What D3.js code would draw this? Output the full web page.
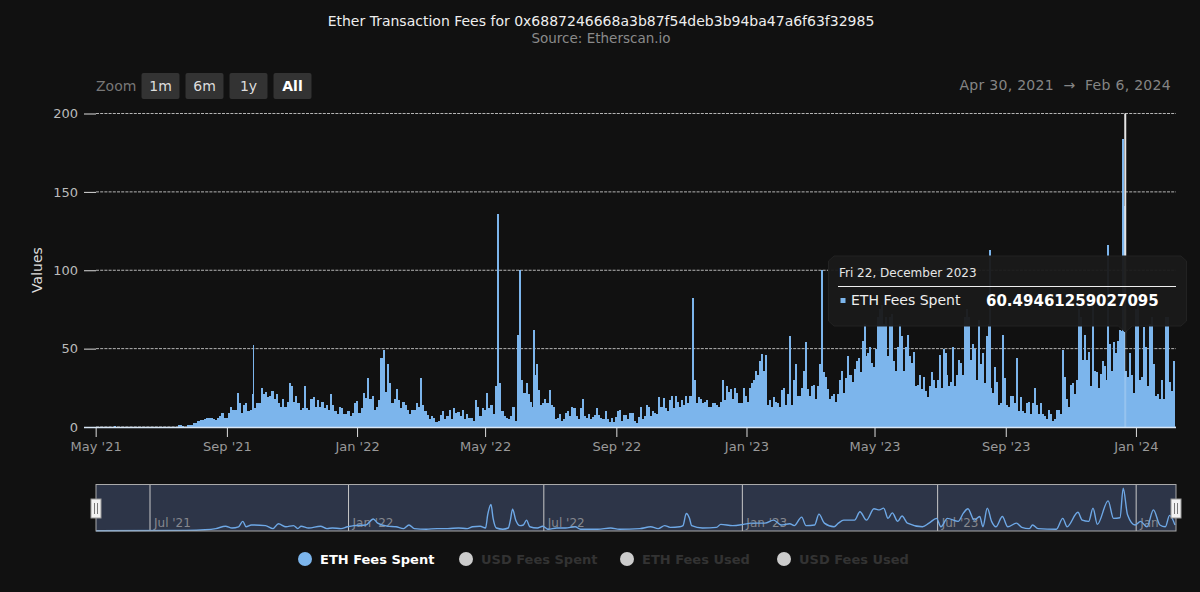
<!DOCTYPE html>
<html>
<head>
<meta charset="utf-8">
<script src="https://cdn.jsdelivr.net/npm/d3@7"></script>
<style>
body { margin: 0; background: #111; overflow: hidden; }
text { font-family: "DejaVu Sans", sans-serif; }
</style>
</head>
<body>
<script>
// fee readings, one list per stretch of the timeline (ETH per day)
var segmentStarts = ["2021-04-30", "2021-07-11", "2021-12-25", "2022-06-12", "2022-11-28", "2023-04-17", "2023-09-14", "2024-02-07"];

var fees2021a = [0,0,0,0,0,0,0,0,0,0.8,0,0,0,0,0,0,0,0,0,0,0,0,0,0,0,0,0,0,0,0,0,0,0,0,0,0];
var fees2021b = [0.2,0.2,0.2,1,1,0.8,0.3,1,1,1.5,2.5,2.5,4,4.5,4.5,5,5.5,5.5,5.5,5,4.5,5.5,7,9,6,6,9,13,11,11,21.5,15,9,14,15,10,11,21,12,15,15,25,21,22.5,19,20,23,18,21,15,13,18,13,16,28,26,16,20,15,11,12,26,12,11,18,19,13,17,13,16,12,14,11,21,14,10,8,13,12,8,8,10];
var fees2022a = [7,8.7,15.5,16.8,9,12,22,18.3,31,18,20,11,13,17,44,49,22.5,40,28,15,18,24,17,12,16,14,11,8,11,11,15,12.5,31,14,10,7.7,5,7,6,3.5,4,7.7,10,5,7,11,5,12,9,9.6,7,11,5,8.3,6,6,4,17,12.5,7,12,11,22,12,14,8,26,62,28,10,7,6,5,7,13,4,59,56,30,22,28,21];
var fees2022b = [16,13,33,40,23.5,14,15,18,15,23.5,14,12.5,5,6,8,4,5,9,10,7,13,12,7,5,12,18,7,5.5,8.3,5,6.5,7.7,12,7.7,6,5,10,5,3,5.5,3.5,6.5,10,11,4,7.7,7.7,5,9,9,4,2.5,6.2,13,5,7,14,12.5,7,10,9,8.3,19,13,18.5,12,10,17,20,12,20,16,13,17,14,20,15,20,82,30,15,19,18,15,16,17,13];
var fees2023a = [13,15,15,14,13,16,30,17,26,22.5,24,18,25,22,15,15,25,20,16,25,28,30,36,33,42,46.6,36,46,14,17,13,19,16,15,13,23.6,25,14,21,26,14,30,40,20,20,25,36,54,24,20,26,27,18,26,40,32,35,32,24,18,20,21,16,21,30,36,22,31,45,33,29,37,42,44];
var fees2023b = [35,55,66,45,47,51,41,38,50,70,75,78,66,70,45,70,72,42,36,51,66,58,36,51,59,45,41,48,26,27,33,24,32,23,19,26,35,30,25,30,46,25,50,47,33,26,29,51,26,33,43,41,33,70,75,70,43,53,50,30,68,40,47,28,58,66,25,22,38,29,14,15,59,31,14,13,20,20,15,44,10];
var fees2024a = [19,10,9,15,16,8,15,25,14,8,15,8,7,5,11,8,4,5,11,11,8,49,32,18,13,27,28,21,30,75,70,43,59,43,48,26,85,36,35,25,34,42,39,30,70,53,36,54,47,55,62,61,60.5,36,32,47,33,22,75,80,30,32,64,51,26,66,70,40,20,21,18,30,18,70,70,29,23,42];

// single days that stick out above their neighbours
var spikeDates = ["2021-09-25", "2022-05-12", "2022-06-02", "2022-06-15", "2023-02-10", "2023-03-12", "2023-08-16", "2023-12-05", "2023-12-19", "2023-12-20"];
var spikeValues = [52, 136, 100, 62, 58, 100, 113, 116, 184, 141];

// navigator overview line: days since 1 May 2021 and grouped fee
var navDays = [11,95,112,122,131,137,143,147,150,155,168,175,180,187,194,198,201,208,219,225,230,238,244,250,261,268,272,281,289,296,301,306,317,327,337,347,355,360,367,372,374,377,379,382,388,393,395,397,400,404,407,410,413,420,425,430,438,446,455,460,476,488,496,515,525,532,538,543,552,555,558,561,563,573,586,590,601,611,618,631,639,646,654,658,665,669,677,681,686,695,699,704,714,719,725,732,737,741,745,749,754,758,763,777,783,790,794,800,810,815,819,825,830,833,837,841,845,851,856,864,869,876,879,884,901,907,911,921,925,931,935,939,949,954,960,963,967,974,979,985,991,997,1002,1006,1011];
var navValues = [0.5,1,2,4,8,5,7,16,7,10,9,4,12,7,9,4,8,5,8,4,5,4,7,9,10,20,13,8,7,4,10,4,3,4,4,5,4,7,8,5,27,44,21,5,3,5,18,36,18,9,10,18,7,5,8,3,5,5,7,3,3,5,3,4,7,4,9,6,7,9,29,21,9,5,6,11,9,11,13,13,18,10,12,9,23,9,10,28,13,7,13,18,18,32,18,37,35,38,21,30,16,25,13,7,13,21,7,21,16,30,37,18,24,7,38,16,7,24,7,13,6,4,10,4,3,21,7,31,18,16,38,11,50,21,22,71,27,10,16,7,35,10,7,26,10];

var yTicks = [0, 50, 100, 150, 200];
var xTicks = ["2021-05-01", "2021-09-01", "2022-01-01", "2022-05-01", "2022-09-01", "2023-01-01", "2023-05-01", "2023-09-01", "2024-01-01"];
var navTicks = ["2021-07-01", "2022-01-01", "2022-07-01", "2023-01-01", "2023-07-01", "2024-01-01"];
var navLabels = ["Jul '21", "Jan '22", "Jul '22", "Jan '23", "Jul '23", "Jan"];
var zoomButtons = ["1m", "6m", "1y", "All"];
var legendNames = ["ETH Fees Spent", "USD Fees Spent", "ETH Fees Used", "USD Fees Used"];

var width = 1200, height = 592;
var parseDay = d3.utcParse("%Y-%m-%d");
var dayMs = 86400000;

var svg = d3.select("body").append("svg")
	.attr("width", width)
	.attr("height", height)
	.style("display", "block");

var x = d3.scaleUtc().domain([parseDay("2021-04-30"), parseDay("2024-02-07")]).range([94.6, 1175.4]);
var y = d3.scaleLinear().domain([0, 200]).range([427, 113.5]);

// spread each list evenly over its stretch of time
var segments = [fees2021a, fees2021b, fees2022a, fees2022b, fees2023a, fees2023b, fees2024a];
var rows = [];
segments.forEach(function(list, s) {
	var t0 = +parseDay(segmentStarts[s]), t1 = +parseDay(segmentStarts[s + 1]);
	var step = (t1 - t0) / list.length;
	list.forEach(function(v, i) {
		rows.push({ from: new Date(t0 + i * step), to: new Date(t0 + (i + 1) * step), value: v });
	});
});
var spikes = spikeDates.map(function(d, i) {
	var t = parseDay(d);
	return { from: t, to: new Date(+t + 1.7 * dayMs), value: spikeValues[i] };
});

// header
svg.append("text").attr("x", 601).attr("y", 26).attr("text-anchor", "middle")
	.style("font-size", "14px").style("fill", "#eee")
	.text("Ether Transaction Fees for 0x6887246668a3b87f54deb3b94ba47a6f63f32985");
svg.append("text").attr("x", 601).attr("y", 43).attr("text-anchor", "middle")
	.style("font-size", "13.5px").style("fill", "#8a8a8a")
	.text("Source: Etherscan.io");

// zoom buttons
svg.append("text").attr("x", 96).attr("y", 91).style("font-size", "14px").style("fill", "#777").text("Zoom");
var buttonX = d3.scalePoint().domain(zoomButtons).range([141.5, 273.5]);
var btn = svg.selectAll("g.btn").data(zoomButtons).enter().append("g").attr("class", "btn");
btn.append("rect")
	.attr("x", function(d){ return buttonX(d); })
	.attr("y", 73)
	.attr("width", 38)
	.attr("height", 26)
	.attr("rx", 2)
	.attr("fill", "#333");
btn.append("text")
	.attr("x", function(d){ return buttonX(d) + 19; })
	.attr("y", 91)
	.attr("text-anchor", "middle")
	.style("font-size", "14px")
	.style("font-weight", function(d){ return d == "All" ? "bold" : "normal"; })
	.style("fill", function(d){ return d == "All" ? "#fff" : "#ddd"; })
	.text(function(d){ return d; });

svg.append("text").attr("x", 1171).attr("y", 90).attr("text-anchor", "end")
	.style("font-size", "14px").style("fill", "#858585").style("letter-spacing", "0.3px")
	.text("Apr 30, 2021\u00a0\u00a0\u2192\u00a0\u00a0Feb 6, 2024");

// gridlines
svg.selectAll("line.grid").data(yTicks).enter().append("line")
	.attr("class", "grid")
	.attr("x1", 96).attr("x2", 1176)
	.attr("y1", function(d){ return y(d); })
	.attr("y2", function(d){ return y(d); })
	.attr("stroke", "#b5b5b5")
	.attr("stroke-dasharray", "3,1.2");

// bars
svg.append("g").selectAll("rect").data(rows.concat(spikes)).enter().append("rect")
	.attr("x", function(d){ return x(d.from); })
	.attr("y", function(d){ return y(d.value); })
	.attr("width", function(d){ return x(d.to) - x(d.from); })
	.attr("height", function(d){ return y(0) - y(d.value); })
	.attr("fill", "#7cb5ec")
	.attr("shape-rendering", "crispEdges");

// crosshair: solid above the hovered bar, just a faint band over it
var hoverX = x(parseDay("2023-12-22")), hoverValue = 60.49461259027095;
svg.append("line")
	.attr("x1", hoverX).attr("x2", hoverX)
	.attr("y1", y(200)).attr("y2", y(hoverValue))
	.attr("stroke", "#e4e4e4").attr("stroke-width", 2);
svg.append("line")
	.attr("x1", hoverX).attr("x2", hoverX)
	.attr("y1", y(hoverValue)).attr("y2", y(0))
	.attr("stroke", "#fff").attr("stroke-opacity", 0.2).attr("stroke-width", 2);

// axes
var yAxis = svg.append("g").attr("transform", "translate(96,0)")
	.call(d3.axisLeft(y).tickValues(yTicks).tickSize(12).tickPadding(6));
yAxis.select(".domain").remove();
yAxis.selectAll("line").attr("stroke", "#ddd");
yAxis.selectAll("text").style("font-size", "13px").style("fill", "#bbb").style("font-family", "'DejaVu Sans'");

var xAxis = svg.append("g").attr("transform", "translate(0,427)")
	.call(d3.axisBottom(x).tickValues(xTicks.map(parseDay)).tickFormat(d3.utcFormat("%b '%y")).tickSize(10).tickPadding(5));
xAxis.select(".domain").remove();
xAxis.selectAll("line").attr("stroke", "#ddd");
xAxis.selectAll("text").style("font-size", "13px").style("fill", "#999").style("font-family", "'DejaVu Sans'");
svg.append("line").attr("x1", 84).attr("x2", 1176).attr("y1", 427.5).attr("y2", 427.5)
	.attr("stroke", "#d8e6f5").attr("stroke-width", 1.5);

svg.append("text").attr("transform", "translate(42,270) rotate(-90)").attr("text-anchor", "middle")
	.style("font-size", "14px").style("fill", "#ddd").text("Values");

// tooltip
var tip = svg.append("g");
var tipY = y(hoverValue);
tip.append("path")
	.attr("d", d3.line()([[834, 256], [1181, 256], [1186.5, 261], [1186.5, 321], [1181, 326], [hoverX + 7, 326], [hoverX, tipY], [hoverX - 7, 326], [834, 326], [828.5, 321], [828.5, 261]]) + "Z")
	.attr("fill", "#1a1a1a").attr("fill-opacity", 0.96).attr("stroke", "#222");
tip.append("text").attr("x", 839).attr("y", 277).style("font-size", "12px").style("fill", "#e6e6e6").text("Fri 22, December 2023");
tip.append("line").attr("x1", 838).attr("x2", 1176).attr("y1", 286.5).attr("y2", 286.5).attr("stroke", "#eee");
tip.append("rect").attr("x", 840.5).attr("y", 298).attr("width", 5).attr("height", 5).attr("fill", "#7cb5ec");
tip.append("text").attr("x", 851).attr("y", 305).style("font-size", "14px").style("fill", "#eee").text("ETH Fees Spent");
tip.append("text").attr("x", 986).attr("y", 306).style("font-size", "15px").style("font-weight", "bold").style("fill", "#fff").text("60.49461259027095");

// navigator
var navY = d3.scaleLinear().domain([0, 78]).range([531, 484]);
var navX = d3.scaleLinear().domain([0, 1011]).range([84.2, 1175]);
var navDate = function(d){ return navX((d - parseDay("2021-05-01")) / dayMs); };

svg.append("rect").attr("x", 96).attr("y", 484.5).attr("width", 1080).attr("height", 46.5)
	.attr("fill", "#2d3548");
svg.selectAll("line.navgrid").data(navTicks).enter().append("line")
	.attr("class", "navgrid")
	.attr("x1", function(d){ return navDate(parseDay(d)); })
	.attr("x2", function(d){ return navDate(parseDay(d)); })
	.attr("y1", 484).attr("y2", 531)
	.attr("stroke", "#c8c8c8");
svg.selectAll("text.navlabel").data(navTicks).enter().append("text")
	.attr("class", "navlabel")
	.attr("x", function(d){ return navDate(parseDay(d)) + 4; })
	.attr("y", 527)
	.style("font-size", "12px")
	.style("fill", "#85888f")
	.text(function(d, i){ return navLabels[i]; });

var navLine = d3.line()
	.x(function(d, i){ return navX(navDays[i]); })
	.y(function(d){ return navY(d); })
	.curve(d3.curveMonotoneX);
svg.append("path").attr("d", navLine(navValues))
	.attr("fill", "none").attr("stroke", "#6ea8e6").attr("stroke-width", 1.4);

svg.append("rect").attr("x", 96).attr("y", 484.5).attr("width", 1080).attr("height", 46.5)
	.attr("fill", "none").attr("stroke", "#aaa");

[96, 1176].forEach(function(hx) {
	svg.append("rect").attr("x", hx - 5).attr("y", 499).attr("width", 10).attr("height", 19)
		.attr("fill", "#f2f2f2").attr("stroke", "#999");
	svg.append("line").attr("x1", hx - 1.5).attr("x2", hx - 1.5).attr("y1", 503).attr("y2", 514).attr("stroke", "#777");
	svg.append("line").attr("x1", hx + 1.5).attr("x2", hx + 1.5).attr("y1", 503).attr("y2", 514).attr("stroke", "#777");
});

// legend
var legendCircle = [305, 466, 627, 784];
var legend = svg.selectAll("g.legend").data(legendNames).enter().append("g").attr("class", "legend");
legend.append("circle")
	.attr("cx", function(d, i){ return legendCircle[i]; })
	.attr("cy", 559)
	.attr("r", 7)
	.attr("fill", function(d, i){ return i == 0 ? "#7cb5ec" : "#ccc"; });
legend.append("text")
	.attr("x", function(d, i){ return legendCircle[i] + 15; })
	.attr("y", 564)
	.style("font-size", "13px")
	.style("font-weight", "bold")
	.style("fill", function(d, i){ return i == 0 ? "#fff" : "#333"; })
	.text(function(d){ return d; });
</script>
</body>
</html>
